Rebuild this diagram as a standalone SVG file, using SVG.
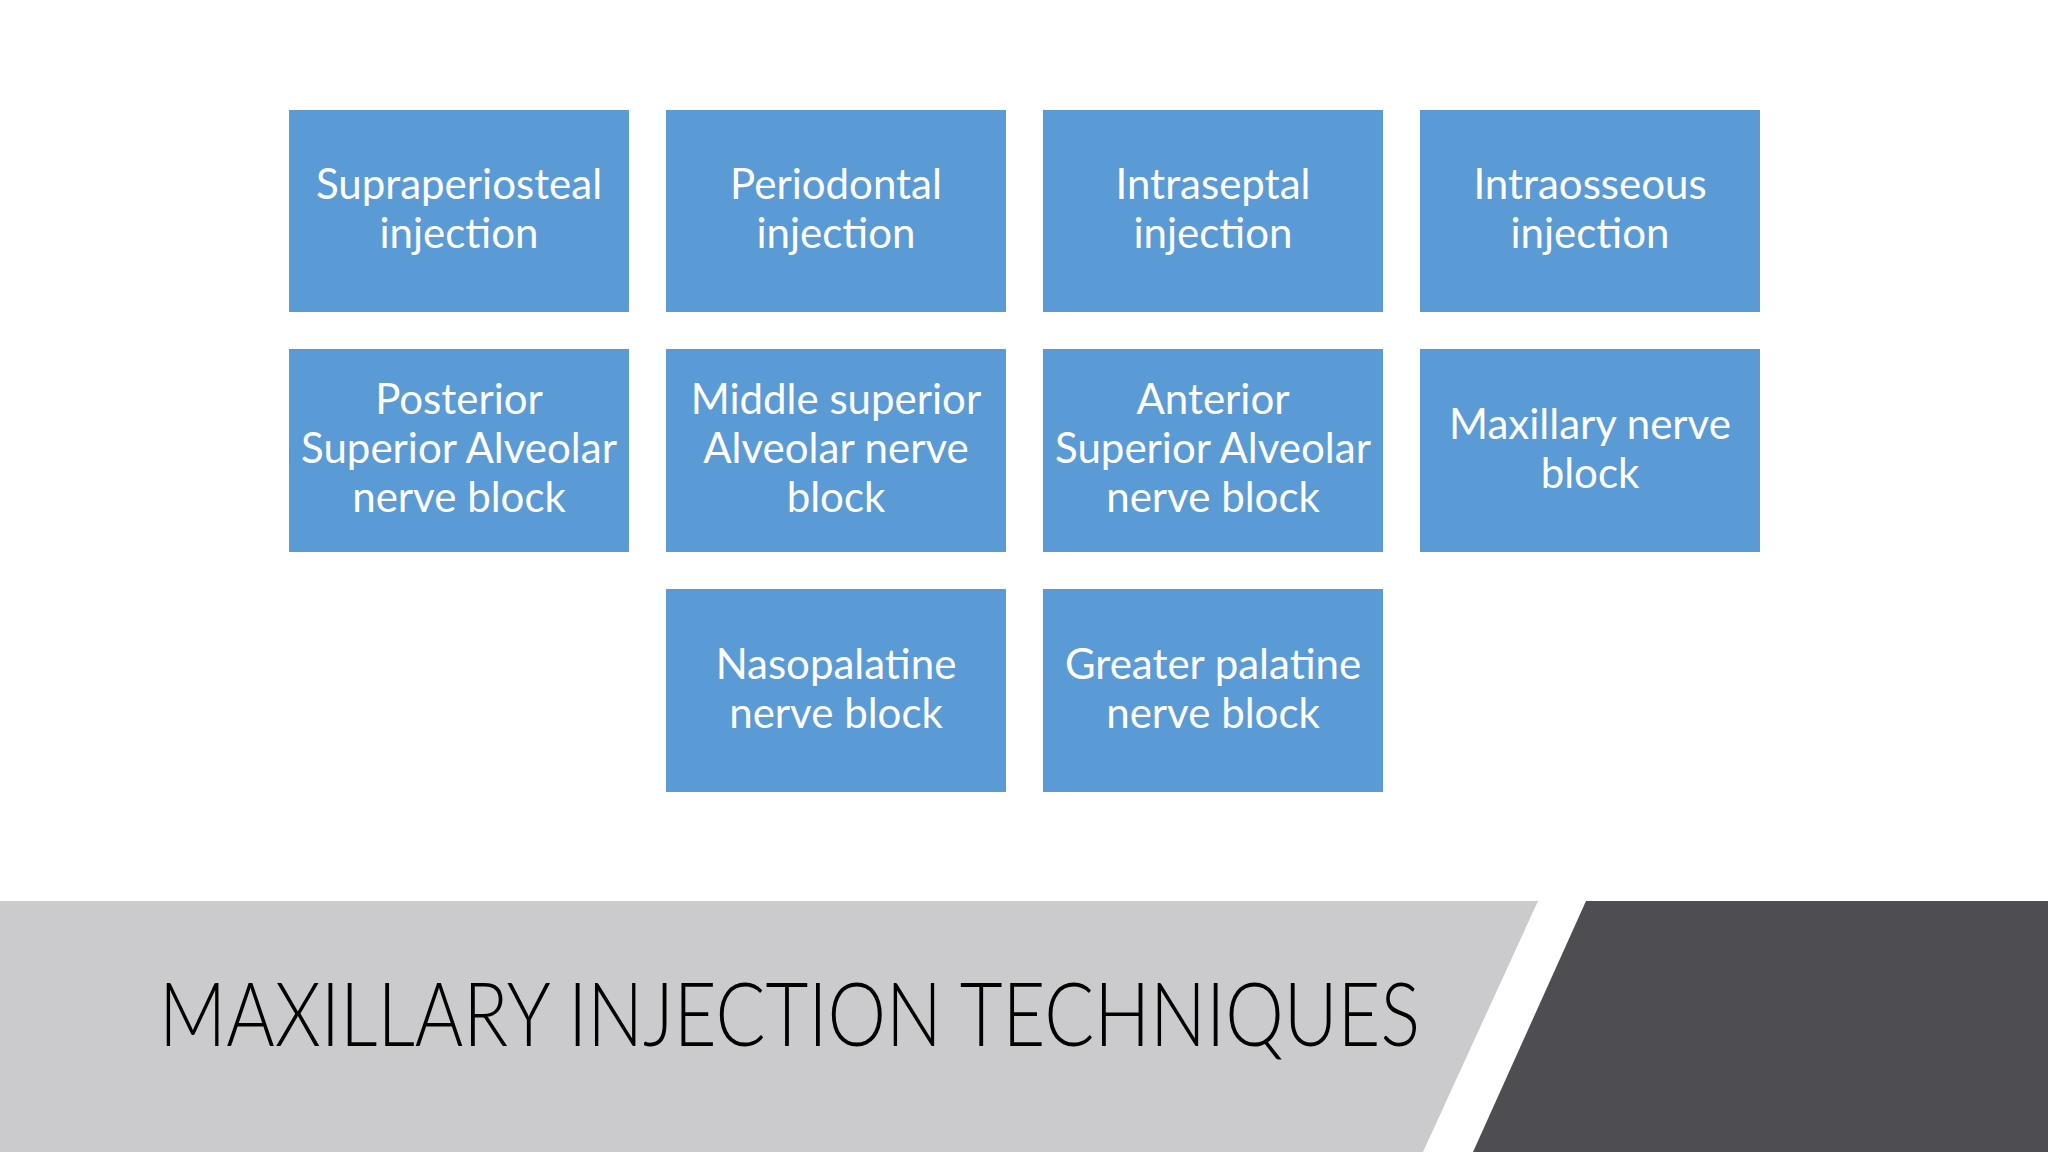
<svg xmlns="http://www.w3.org/2000/svg" width="2048" height="1152" viewBox="0 0 2048 1152">
<style>
.box{fill:#5B9BD5}
.lbl{font-family:Lato,"Liberation Sans",sans-serif;font-size:42px;fill:#FFFFFF;text-anchor:middle}
.title{font-family:Lato,"Liberation Sans",sans-serif;font-weight:300;font-size:88px;fill:#000000}
</style>
<rect x="0" y="0" width="2048" height="1152" fill="#FFFFFF"/>
<g id="banner">
<polygon points="0,901 1538,901 1423,1152 0,1152" fill="#CBCACC"/>
<polygon points="1586,901 2048,901 2048,1152 1473,1152" fill="#4E4D51"/>
<text class="title" x="159" y="1046" textLength="1261" lengthAdjust="spacingAndGlyphs">MAXILLARY INJECTION TECHNIQUES</text>
</g>
<g id="connectors"></g>
<g id="n1"><rect class="box" x="289" y="110" width="340" height="202"/><text class="lbl" x="459" y="199">Supraperiosteal</text><text class="lbl" x="459" y="248">injection</text></g>
<g id="n2"><rect class="box" x="666" y="110" width="340" height="202"/><text class="lbl" x="836" y="199">Periodontal</text><text class="lbl" x="836" y="248">injection</text></g>
<g id="n3"><rect class="box" x="1043" y="110" width="340" height="202"/><text class="lbl" x="1213" y="199">Intraseptal</text><text class="lbl" x="1213" y="248">injection</text></g>
<g id="n4"><rect class="box" x="1420" y="110" width="340" height="202"/><text class="lbl" x="1590" y="199">Intraosseous</text><text class="lbl" x="1590" y="248">injection</text></g>
<g id="n5"><rect class="box" x="289" y="349" width="340" height="203"/><text class="lbl" x="459" y="414">Posterior</text><text class="lbl" x="459" y="463">Superior Alveolar</text><text class="lbl" x="459" y="512">nerve block</text></g>
<g id="n6"><rect class="box" x="666" y="349" width="340" height="203"/><text class="lbl" x="836" y="414">Middle superior</text><text class="lbl" x="836" y="463">Alveolar nerve</text><text class="lbl" x="836" y="512">block</text></g>
<g id="n7"><rect class="box" x="1043" y="349" width="340" height="203"/><text class="lbl" x="1213" y="414">Anterior</text><text class="lbl" x="1213" y="463">Superior Alveolar</text><text class="lbl" x="1213" y="512">nerve block</text></g>
<g id="n8"><rect class="box" x="1420" y="349" width="340" height="203"/><text class="lbl" x="1590" y="439">Maxillary nerve</text><text class="lbl" x="1590" y="488">block</text></g>
<g id="n9"><rect class="box" x="666" y="589" width="340" height="203"/><text class="lbl" x="836" y="679">Nasopalatine</text><text class="lbl" x="836" y="728">nerve block</text></g>
<g id="n10"><rect class="box" x="1043" y="589" width="340" height="203"/><text class="lbl" x="1213" y="679">Greater palatine</text><text class="lbl" x="1213" y="728">nerve block</text></g>
</svg>
